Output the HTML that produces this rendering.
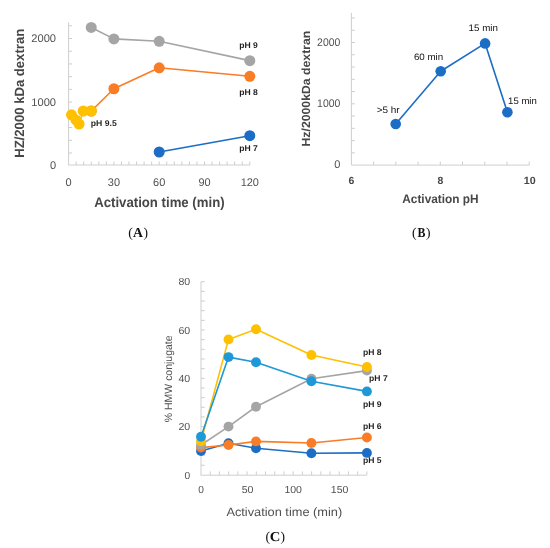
<!DOCTYPE html>
<html><head><meta charset="utf-8"><title>Figure</title>
<style>
html,body{margin:0;padding:0;background:#fff;}
body{width:550px;height:548px;overflow:hidden;}
svg{display:block;}
text{white-space:pre;text-rendering:geometricPrecision;}
</style></head><body>
<svg width="550" height="548" viewBox="0 0 550 548">
<rect width="550" height="548" fill="#ffffff"/>
<line x1="68.60" y1="22.50" x2="68.60" y2="165.00" stroke="#cecece" stroke-width="1"/>
<line x1="68.60" y1="165.00" x2="249.80" y2="165.00" stroke="#cecece" stroke-width="1"/>
<line x1="68.60" y1="152.98" x2="72.10" y2="152.98" stroke="#cecece" stroke-width="1"/>
<line x1="68.60" y1="140.26" x2="72.10" y2="140.26" stroke="#cecece" stroke-width="1"/>
<line x1="68.60" y1="127.54" x2="72.10" y2="127.54" stroke="#cecece" stroke-width="1"/>
<line x1="68.60" y1="114.82" x2="72.10" y2="114.82" stroke="#cecece" stroke-width="1"/>
<line x1="68.60" y1="102.10" x2="72.10" y2="102.10" stroke="#cecece" stroke-width="1"/>
<line x1="68.60" y1="89.38" x2="72.10" y2="89.38" stroke="#cecece" stroke-width="1"/>
<line x1="68.60" y1="76.66" x2="72.10" y2="76.66" stroke="#cecece" stroke-width="1"/>
<line x1="68.60" y1="63.94" x2="72.10" y2="63.94" stroke="#cecece" stroke-width="1"/>
<line x1="68.60" y1="51.22" x2="72.10" y2="51.22" stroke="#cecece" stroke-width="1"/>
<line x1="68.60" y1="38.50" x2="72.10" y2="38.50" stroke="#cecece" stroke-width="1"/>
<line x1="68.60" y1="25.78" x2="72.10" y2="25.78" stroke="#cecece" stroke-width="1"/>
<line x1="76.15" y1="165.00" x2="76.15" y2="161.50" stroke="#cecece" stroke-width="1"/>
<line x1="83.70" y1="165.00" x2="83.70" y2="161.50" stroke="#cecece" stroke-width="1"/>
<line x1="91.25" y1="165.00" x2="91.25" y2="161.50" stroke="#cecece" stroke-width="1"/>
<line x1="98.80" y1="165.00" x2="98.80" y2="161.50" stroke="#cecece" stroke-width="1"/>
<line x1="106.35" y1="165.00" x2="106.35" y2="161.50" stroke="#cecece" stroke-width="1"/>
<line x1="113.90" y1="165.00" x2="113.90" y2="161.50" stroke="#cecece" stroke-width="1"/>
<line x1="121.45" y1="165.00" x2="121.45" y2="161.50" stroke="#cecece" stroke-width="1"/>
<line x1="129.00" y1="165.00" x2="129.00" y2="161.50" stroke="#cecece" stroke-width="1"/>
<line x1="136.55" y1="165.00" x2="136.55" y2="161.50" stroke="#cecece" stroke-width="1"/>
<line x1="144.10" y1="165.00" x2="144.10" y2="161.50" stroke="#cecece" stroke-width="1"/>
<line x1="151.65" y1="165.00" x2="151.65" y2="161.50" stroke="#cecece" stroke-width="1"/>
<line x1="159.20" y1="165.00" x2="159.20" y2="161.50" stroke="#cecece" stroke-width="1"/>
<line x1="166.75" y1="165.00" x2="166.75" y2="161.50" stroke="#cecece" stroke-width="1"/>
<line x1="174.30" y1="165.00" x2="174.30" y2="161.50" stroke="#cecece" stroke-width="1"/>
<line x1="181.85" y1="165.00" x2="181.85" y2="161.50" stroke="#cecece" stroke-width="1"/>
<line x1="189.40" y1="165.00" x2="189.40" y2="161.50" stroke="#cecece" stroke-width="1"/>
<line x1="196.95" y1="165.00" x2="196.95" y2="161.50" stroke="#cecece" stroke-width="1"/>
<line x1="204.50" y1="165.00" x2="204.50" y2="161.50" stroke="#cecece" stroke-width="1"/>
<line x1="212.05" y1="165.00" x2="212.05" y2="161.50" stroke="#cecece" stroke-width="1"/>
<line x1="219.60" y1="165.00" x2="219.60" y2="161.50" stroke="#cecece" stroke-width="1"/>
<line x1="227.15" y1="165.00" x2="227.15" y2="161.50" stroke="#cecece" stroke-width="1"/>
<line x1="234.70" y1="165.00" x2="234.70" y2="161.50" stroke="#cecece" stroke-width="1"/>
<line x1="242.25" y1="165.00" x2="242.25" y2="161.50" stroke="#cecece" stroke-width="1"/>
<line x1="249.80" y1="165.00" x2="249.80" y2="161.50" stroke="#cecece" stroke-width="1"/>
<text x="56" y="169.3" font-size="11.0" fill="#505050" font-family='"Liberation Sans", sans-serif' text-anchor="end">0</text>
<text x="56" y="105.7" font-size="11.0" fill="#505050" font-family='"Liberation Sans", sans-serif' text-anchor="end" textLength="24.7" lengthAdjust="spacingAndGlyphs">1000</text>
<text x="56" y="42.1" font-size="11.0" fill="#505050" font-family='"Liberation Sans", sans-serif' text-anchor="end" textLength="24.7" lengthAdjust="spacingAndGlyphs">2000</text>
<text x="68.6" y="186" font-size="11.0" fill="#505050" font-family='"Liberation Sans", sans-serif' text-anchor="middle">0</text>
<text x="113.9" y="186" font-size="11.0" fill="#505050" font-family='"Liberation Sans", sans-serif' text-anchor="middle" textLength="12.2" lengthAdjust="spacingAndGlyphs">30</text>
<text x="159.2" y="186" font-size="11.0" fill="#505050" font-family='"Liberation Sans", sans-serif' text-anchor="middle" textLength="12.2" lengthAdjust="spacingAndGlyphs">60</text>
<text x="204.5" y="186" font-size="11.0" fill="#505050" font-family='"Liberation Sans", sans-serif' text-anchor="middle" textLength="12.2" lengthAdjust="spacingAndGlyphs">90</text>
<text x="249.8" y="186" font-size="11.0" fill="#505050" font-family='"Liberation Sans", sans-serif' text-anchor="middle" textLength="18.3" lengthAdjust="spacingAndGlyphs">120</text>
<text x="94.2" y="206.7" font-size="14" fill="#474747" font-family='"Liberation Sans", sans-serif' font-weight="bold" textLength="130.4" lengthAdjust="spacingAndGlyphs">Activation time (min)</text>
<text x="24.3" y="157.8" font-size="13.4" fill="#474747" font-family='"Liberation Sans", sans-serif' font-weight="bold" textLength="129" lengthAdjust="spacingAndGlyphs" transform="rotate(-90 24.3 157.8)">HZ/2000 kDa dextran</text>
<polyline points="159.20,152.00 249.80,135.70" fill="none" stroke="#1c6dc6" stroke-width="1.6" stroke-linejoin="round"/>
<circle cx="159.20" cy="152.00" r="5.5" fill="#1c6dc6"/>
<circle cx="249.80" cy="135.70" r="5.5" fill="#1c6dc6"/>
<polyline points="91.25,111.00 113.90,88.74 159.20,67.80 249.80,76.30" fill="none" stroke="#f97c27" stroke-width="1.6" stroke-linejoin="round"/>
<circle cx="91.25" cy="111.00" r="5.5" fill="#f97c27"/>
<circle cx="113.90" cy="88.74" r="5.5" fill="#f97c27"/>
<circle cx="159.20" cy="67.80" r="5.5" fill="#f97c27"/>
<circle cx="249.80" cy="76.30" r="5.5" fill="#f97c27"/>
<polyline points="91.25,27.45 113.90,38.90 159.20,41.30 249.80,60.65" fill="none" stroke="#a5a5a5" stroke-width="1.6" stroke-linejoin="round"/>
<circle cx="91.25" cy="27.45" r="5.5" fill="#a5a5a5"/>
<circle cx="113.90" cy="38.90" r="5.5" fill="#a5a5a5"/>
<circle cx="159.20" cy="41.30" r="5.5" fill="#a5a5a5"/>
<circle cx="249.80" cy="60.65" r="5.5" fill="#a5a5a5"/>
<polyline points="71.50,114.80 75.90,119.90 79.10,124.10 83.20,111.00 91.30,111.00" fill="none" stroke="#ffc000" stroke-width="1.6" stroke-linejoin="round"/>
<circle cx="71.50" cy="114.80" r="5.5" fill="#ffc000"/>
<circle cx="75.90" cy="119.90" r="5.5" fill="#ffc000"/>
<circle cx="79.10" cy="124.10" r="5.5" fill="#ffc000"/>
<circle cx="83.20" cy="111.00" r="5.5" fill="#ffc000"/>
<circle cx="91.30" cy="111.00" r="5.5" fill="#ffc000"/>
<text x="239.3" y="47.6" font-size="8.4" fill="#1e1e1e" font-family='"Liberation Sans", sans-serif' font-weight="bold" textLength="18.6" lengthAdjust="spacingAndGlyphs">pH 9</text>
<text x="239.3" y="94.6" font-size="8.4" fill="#1e1e1e" font-family='"Liberation Sans", sans-serif' font-weight="bold" textLength="18.6" lengthAdjust="spacingAndGlyphs">pH 8</text>
<text x="239.3" y="150.6" font-size="8.4" fill="#1e1e1e" font-family='"Liberation Sans", sans-serif' font-weight="bold" textLength="18.6" lengthAdjust="spacingAndGlyphs">pH 7</text>
<text x="90.8" y="125.9" font-size="8.4" fill="#1e1e1e" font-family='"Liberation Sans", sans-serif' font-weight="bold" textLength="26" lengthAdjust="spacingAndGlyphs">pH 9.5</text>
<text x="128.3" y="236.7" font-size="13.6" fill="#111" font-family='"Liberation Serif", serif'>(</text>
<text x="133.0" y="236.7" font-size="13.6" fill="#111" font-family='"Liberation Serif", serif' font-weight="bold" textLength="9.9" lengthAdjust="spacingAndGlyphs">A</text>
<text x="143.6" y="236.7" font-size="13.6" fill="#111" font-family='"Liberation Serif", serif'>)</text>
<line x1="351.40" y1="12.80" x2="351.40" y2="165.10" stroke="#cecece" stroke-width="1"/>
<line x1="351.40" y1="165.10" x2="529.20" y2="165.10" stroke="#cecece" stroke-width="1"/>
<line x1="351.40" y1="152.84" x2="354.90" y2="152.84" stroke="#cecece" stroke-width="1"/>
<line x1="351.40" y1="140.58" x2="354.90" y2="140.58" stroke="#cecece" stroke-width="1"/>
<line x1="351.40" y1="128.32" x2="354.90" y2="128.32" stroke="#cecece" stroke-width="1"/>
<line x1="351.40" y1="116.06" x2="354.90" y2="116.06" stroke="#cecece" stroke-width="1"/>
<line x1="351.40" y1="103.80" x2="354.90" y2="103.80" stroke="#cecece" stroke-width="1"/>
<line x1="351.40" y1="91.54" x2="354.90" y2="91.54" stroke="#cecece" stroke-width="1"/>
<line x1="351.40" y1="79.28" x2="354.90" y2="79.28" stroke="#cecece" stroke-width="1"/>
<line x1="351.40" y1="67.02" x2="354.90" y2="67.02" stroke="#cecece" stroke-width="1"/>
<line x1="351.40" y1="54.76" x2="354.90" y2="54.76" stroke="#cecece" stroke-width="1"/>
<line x1="351.40" y1="42.50" x2="354.90" y2="42.50" stroke="#cecece" stroke-width="1"/>
<line x1="351.40" y1="30.24" x2="354.90" y2="30.24" stroke="#cecece" stroke-width="1"/>
<line x1="351.40" y1="17.98" x2="354.90" y2="17.98" stroke="#cecece" stroke-width="1"/>
<line x1="373.62" y1="165.10" x2="373.62" y2="161.60" stroke="#cecece" stroke-width="1"/>
<line x1="395.85" y1="165.10" x2="395.85" y2="161.60" stroke="#cecece" stroke-width="1"/>
<line x1="418.07" y1="165.10" x2="418.07" y2="161.60" stroke="#cecece" stroke-width="1"/>
<line x1="440.30" y1="165.10" x2="440.30" y2="161.60" stroke="#cecece" stroke-width="1"/>
<line x1="462.52" y1="165.10" x2="462.52" y2="161.60" stroke="#cecece" stroke-width="1"/>
<line x1="484.75" y1="165.10" x2="484.75" y2="161.60" stroke="#cecece" stroke-width="1"/>
<line x1="506.98" y1="165.10" x2="506.98" y2="161.60" stroke="#cecece" stroke-width="1"/>
<line x1="529.20" y1="165.10" x2="529.20" y2="161.60" stroke="#cecece" stroke-width="1"/>
<text x="340.3" y="167.9" font-size="11.0" fill="#505050" font-family='"Liberation Sans", sans-serif' text-anchor="end">0</text>
<text x="340.3" y="107.4" font-size="11.0" fill="#505050" font-family='"Liberation Sans", sans-serif' text-anchor="end" textLength="23.2" lengthAdjust="spacingAndGlyphs">1000</text>
<text x="340.3" y="46.1" font-size="11.0" fill="#505050" font-family='"Liberation Sans", sans-serif' text-anchor="end" textLength="23.2" lengthAdjust="spacingAndGlyphs">2000</text>
<text x="351.4" y="183.8" font-size="10.4" fill="#474747" font-family='"Liberation Sans", sans-serif' font-weight="bold" text-anchor="middle">6</text>
<text x="440.3" y="183.8" font-size="10.4" fill="#474747" font-family='"Liberation Sans", sans-serif' font-weight="bold" text-anchor="middle">8</text>
<text x="529.8" y="183.8" font-size="10.4" fill="#474747" font-family='"Liberation Sans", sans-serif' font-weight="bold" text-anchor="middle" textLength="11.9" lengthAdjust="spacingAndGlyphs">10</text>
<text x="402.3" y="202.8" font-size="12.3" fill="#474747" font-family='"Liberation Sans", sans-serif' font-weight="bold" textLength="76.3" lengthAdjust="spacingAndGlyphs">Activation pH</text>
<text x="310" y="146.5" font-size="11.8" fill="#474747" font-family='"Liberation Sans", sans-serif' font-weight="bold" textLength="115.8" lengthAdjust="spacingAndGlyphs" transform="rotate(-90 310 146.5)">Hz/2000kDa dextran</text>
<polyline points="395.70,124.00 440.70,71.20 485.10,43.40 507.40,112.30" fill="none" stroke="#1c6dc6" stroke-width="1.6" stroke-linejoin="round"/>
<circle cx="395.70" cy="124.00" r="5.3" fill="#1c6dc6"/>
<circle cx="440.70" cy="71.20" r="5.3" fill="#1c6dc6"/>
<circle cx="485.10" cy="43.40" r="5.3" fill="#1c6dc6"/>
<circle cx="507.40" cy="112.30" r="5.3" fill="#1c6dc6"/>
<text x="376.7" y="112.6" font-size="9.4" fill="#111111" font-family='"Liberation Sans", sans-serif' textLength="23" lengthAdjust="spacingAndGlyphs">&gt;5 hr</text>
<text x="413.9" y="60.1" font-size="9.4" fill="#111111" font-family='"Liberation Sans", sans-serif' textLength="29.3" lengthAdjust="spacingAndGlyphs">60 min</text>
<text x="468.6" y="30.7" font-size="9.4" fill="#111111" font-family='"Liberation Sans", sans-serif' textLength="29.3" lengthAdjust="spacingAndGlyphs">15 min</text>
<text x="508.1" y="104.1" font-size="9.4" fill="#111111" font-family='"Liberation Sans", sans-serif' textLength="28.7" lengthAdjust="spacingAndGlyphs">15 min</text>
<text x="412.0" y="236.7" font-size="13.6" fill="#111" font-family='"Liberation Serif", serif'>(</text>
<text x="417.6" y="236.7" font-size="13.6" fill="#111" font-family='"Liberation Serif", serif' font-weight="bold" textLength="7.9" lengthAdjust="spacingAndGlyphs">B</text>
<text x="426.1" y="236.7" font-size="13.6" fill="#111" font-family='"Liberation Serif", serif'>)</text>
<line x1="201.00" y1="281.70" x2="201.00" y2="474.90" stroke="#cecece" stroke-width="1"/>
<line x1="200.50" y1="475.20" x2="366.90" y2="475.20" stroke="#cecece" stroke-width="1"/>
<line x1="201.00" y1="465.24" x2="204.80" y2="465.24" stroke="#cecece" stroke-width="1"/>
<line x1="201.00" y1="455.58" x2="204.80" y2="455.58" stroke="#cecece" stroke-width="1"/>
<line x1="201.00" y1="445.92" x2="204.80" y2="445.92" stroke="#cecece" stroke-width="1"/>
<line x1="201.00" y1="436.26" x2="204.80" y2="436.26" stroke="#cecece" stroke-width="1"/>
<line x1="201.00" y1="426.60" x2="204.80" y2="426.60" stroke="#cecece" stroke-width="1"/>
<line x1="201.00" y1="416.94" x2="204.80" y2="416.94" stroke="#cecece" stroke-width="1"/>
<line x1="201.00" y1="407.28" x2="204.80" y2="407.28" stroke="#cecece" stroke-width="1"/>
<line x1="201.00" y1="397.62" x2="204.80" y2="397.62" stroke="#cecece" stroke-width="1"/>
<line x1="201.00" y1="387.96" x2="204.80" y2="387.96" stroke="#cecece" stroke-width="1"/>
<line x1="201.00" y1="378.30" x2="204.80" y2="378.30" stroke="#cecece" stroke-width="1"/>
<line x1="201.00" y1="368.64" x2="204.80" y2="368.64" stroke="#cecece" stroke-width="1"/>
<line x1="201.00" y1="358.98" x2="204.80" y2="358.98" stroke="#cecece" stroke-width="1"/>
<line x1="201.00" y1="349.32" x2="204.80" y2="349.32" stroke="#cecece" stroke-width="1"/>
<line x1="201.00" y1="339.66" x2="204.80" y2="339.66" stroke="#cecece" stroke-width="1"/>
<line x1="201.00" y1="330.00" x2="204.80" y2="330.00" stroke="#cecece" stroke-width="1"/>
<line x1="201.00" y1="320.34" x2="204.80" y2="320.34" stroke="#cecece" stroke-width="1"/>
<line x1="201.00" y1="310.68" x2="204.80" y2="310.68" stroke="#cecece" stroke-width="1"/>
<line x1="201.00" y1="301.02" x2="204.80" y2="301.02" stroke="#cecece" stroke-width="1"/>
<line x1="201.00" y1="291.36" x2="204.80" y2="291.36" stroke="#cecece" stroke-width="1"/>
<line x1="201.00" y1="281.70" x2="204.80" y2="281.70" stroke="#cecece" stroke-width="1"/>
<line x1="210.22" y1="474.90" x2="210.22" y2="471.40" stroke="#cecece" stroke-width="1"/>
<line x1="219.43" y1="474.90" x2="219.43" y2="471.40" stroke="#cecece" stroke-width="1"/>
<line x1="228.65" y1="474.90" x2="228.65" y2="471.40" stroke="#cecece" stroke-width="1"/>
<line x1="237.87" y1="474.90" x2="237.87" y2="471.40" stroke="#cecece" stroke-width="1"/>
<line x1="247.08" y1="474.90" x2="247.08" y2="471.40" stroke="#cecece" stroke-width="1"/>
<line x1="256.30" y1="474.90" x2="256.30" y2="471.40" stroke="#cecece" stroke-width="1"/>
<line x1="265.52" y1="474.90" x2="265.52" y2="471.40" stroke="#cecece" stroke-width="1"/>
<line x1="274.73" y1="474.90" x2="274.73" y2="471.40" stroke="#cecece" stroke-width="1"/>
<line x1="283.95" y1="474.90" x2="283.95" y2="471.40" stroke="#cecece" stroke-width="1"/>
<line x1="293.17" y1="474.90" x2="293.17" y2="471.40" stroke="#cecece" stroke-width="1"/>
<line x1="302.38" y1="474.90" x2="302.38" y2="471.40" stroke="#cecece" stroke-width="1"/>
<line x1="311.60" y1="474.90" x2="311.60" y2="471.40" stroke="#cecece" stroke-width="1"/>
<line x1="320.82" y1="474.90" x2="320.82" y2="471.40" stroke="#cecece" stroke-width="1"/>
<line x1="330.03" y1="474.90" x2="330.03" y2="471.40" stroke="#cecece" stroke-width="1"/>
<line x1="339.25" y1="474.90" x2="339.25" y2="471.40" stroke="#cecece" stroke-width="1"/>
<line x1="348.47" y1="474.90" x2="348.47" y2="471.40" stroke="#cecece" stroke-width="1"/>
<line x1="357.68" y1="474.90" x2="357.68" y2="471.40" stroke="#cecece" stroke-width="1"/>
<line x1="366.90" y1="474.90" x2="366.90" y2="471.40" stroke="#cecece" stroke-width="1"/>
<text x="190.2" y="478.5" font-size="10.2" fill="#505050" font-family='"Liberation Sans", sans-serif' text-anchor="end">0</text>
<text x="190.2" y="430.2" font-size="10.2" fill="#505050" font-family='"Liberation Sans", sans-serif' text-anchor="end" textLength="11.8" lengthAdjust="spacingAndGlyphs">20</text>
<text x="190.2" y="381.9" font-size="10.2" fill="#505050" font-family='"Liberation Sans", sans-serif' text-anchor="end" textLength="11.8" lengthAdjust="spacingAndGlyphs">40</text>
<text x="190.2" y="333.6" font-size="10.2" fill="#505050" font-family='"Liberation Sans", sans-serif' text-anchor="end" textLength="11.8" lengthAdjust="spacingAndGlyphs">60</text>
<text x="190.2" y="285.3" font-size="10.2" fill="#505050" font-family='"Liberation Sans", sans-serif' text-anchor="end" textLength="11.8" lengthAdjust="spacingAndGlyphs">80</text>
<text x="201.0" y="493.3" font-size="10.2" fill="#505050" font-family='"Liberation Sans", sans-serif' text-anchor="middle">0</text>
<text x="247.6" y="493.3" font-size="10.2" fill="#505050" font-family='"Liberation Sans", sans-serif' text-anchor="middle" textLength="11.8" lengthAdjust="spacingAndGlyphs">50</text>
<text x="293.2" y="493.3" font-size="10.2" fill="#505050" font-family='"Liberation Sans", sans-serif' text-anchor="middle" textLength="17.6" lengthAdjust="spacingAndGlyphs">100</text>
<text x="339.6" y="493.3" font-size="10.2" fill="#505050" font-family='"Liberation Sans", sans-serif' text-anchor="middle" textLength="17.6" lengthAdjust="spacingAndGlyphs">150</text>
<text x="226.4" y="515.5" font-size="12" fill="#505050" font-family='"Liberation Sans", sans-serif' textLength="115.8" lengthAdjust="spacingAndGlyphs">Activation time (min)</text>
<text x="172.3" y="422.2" font-size="10.6" fill="#505050" font-family='"Liberation Sans", sans-serif' textLength="86.8" lengthAdjust="spacingAndGlyphs" transform="rotate(-90 172.3 422.2)">% HMW conjugate</text>
<polyline points="201.00,451.00 228.50,443.20 256.00,448.20 311.40,453.30 366.90,452.90" fill="none" stroke="#1c6dc6" stroke-width="1.6" stroke-linejoin="round"/>
<circle cx="201.00" cy="451.00" r="4.95" fill="#1c6dc6"/>
<circle cx="228.50" cy="443.20" r="4.95" fill="#1c6dc6"/>
<circle cx="256.00" cy="448.20" r="4.95" fill="#1c6dc6"/>
<circle cx="311.40" cy="453.30" r="4.95" fill="#1c6dc6"/>
<circle cx="366.90" cy="452.90" r="4.95" fill="#1c6dc6"/>
<polyline points="201.00,447.60 228.50,445.00 256.00,441.40 311.40,443.00 366.90,437.50" fill="none" stroke="#f97c27" stroke-width="1.6" stroke-linejoin="round"/>
<circle cx="201.00" cy="447.60" r="4.95" fill="#f97c27"/>
<circle cx="228.50" cy="445.00" r="4.95" fill="#f97c27"/>
<circle cx="256.00" cy="441.40" r="4.95" fill="#f97c27"/>
<circle cx="311.40" cy="443.00" r="4.95" fill="#f97c27"/>
<circle cx="366.90" cy="437.50" r="4.95" fill="#f97c27"/>
<polyline points="201.00,445.00 228.50,426.60 256.00,406.70 311.40,378.70 366.90,370.60" fill="none" stroke="#a5a5a5" stroke-width="1.6" stroke-linejoin="round"/>
<circle cx="201.00" cy="445.00" r="4.95" fill="#a5a5a5"/>
<circle cx="228.50" cy="426.60" r="4.95" fill="#a5a5a5"/>
<circle cx="256.00" cy="406.70" r="4.95" fill="#a5a5a5"/>
<circle cx="311.40" cy="378.70" r="4.95" fill="#a5a5a5"/>
<circle cx="366.90" cy="370.60" r="4.95" fill="#a5a5a5"/>
<polyline points="201.00,441.20 228.50,339.40 256.00,329.20 311.40,355.00 366.90,367.00" fill="none" stroke="#ffc000" stroke-width="1.6" stroke-linejoin="round"/>
<circle cx="201.00" cy="441.20" r="4.95" fill="#ffc000"/>
<circle cx="228.50" cy="339.40" r="4.95" fill="#ffc000"/>
<circle cx="256.00" cy="329.20" r="4.95" fill="#ffc000"/>
<circle cx="311.40" cy="355.00" r="4.95" fill="#ffc000"/>
<circle cx="366.90" cy="367.00" r="4.95" fill="#ffc000"/>
<polyline points="201.00,436.80 228.50,357.10 256.00,362.30 311.40,381.30 366.90,391.40" fill="none" stroke="#1e98d7" stroke-width="1.6" stroke-linejoin="round"/>
<circle cx="201.00" cy="436.80" r="4.95" fill="#1e98d7"/>
<circle cx="228.50" cy="357.10" r="4.95" fill="#1e98d7"/>
<circle cx="256.00" cy="362.30" r="4.95" fill="#1e98d7"/>
<circle cx="311.40" cy="381.30" r="4.95" fill="#1e98d7"/>
<circle cx="366.90" cy="391.40" r="4.95" fill="#1e98d7"/>
<text x="362.9" y="354.7" font-size="8.4" fill="#1e1e1e" font-family='"Liberation Sans", sans-serif' font-weight="bold" textLength="18.6" lengthAdjust="spacingAndGlyphs">pH 8</text>
<text x="369.1" y="380.5" font-size="8.4" fill="#1e1e1e" font-family='"Liberation Sans", sans-serif' font-weight="bold" textLength="18.6" lengthAdjust="spacingAndGlyphs">pH 7</text>
<text x="362.9" y="406.6" font-size="8.4" fill="#1e1e1e" font-family='"Liberation Sans", sans-serif' font-weight="bold" textLength="18.6" lengthAdjust="spacingAndGlyphs">pH 9</text>
<text x="362.9" y="429.2" font-size="8.4" fill="#1e1e1e" font-family='"Liberation Sans", sans-serif' font-weight="bold" textLength="18.6" lengthAdjust="spacingAndGlyphs">pH 6</text>
<text x="362.9" y="463.0" font-size="8.4" fill="#1e1e1e" font-family='"Liberation Sans", sans-serif' font-weight="bold" textLength="18.6" lengthAdjust="spacingAndGlyphs">pH 5</text>
<text x="265.6" y="540.6" font-size="13.6" fill="#111" font-family='"Liberation Serif", serif'>(</text>
<text x="269.8" y="540.6" font-size="13.6" fill="#111" font-family='"Liberation Serif", serif' font-weight="bold" textLength="10.6" lengthAdjust="spacingAndGlyphs">C</text>
<text x="280.6" y="540.6" font-size="13.6" fill="#111" font-family='"Liberation Serif", serif'>)</text>
</svg>
</body></html>
